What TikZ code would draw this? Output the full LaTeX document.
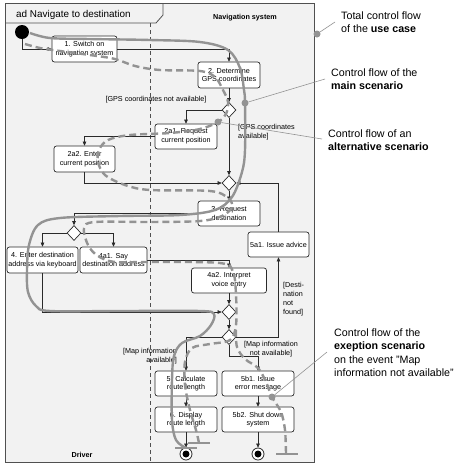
\documentclass[tikz,border=0pt]{standalone}
\usepackage{fontspec}
\setmainfont{Liberation Sans}
\usetikzlibrary{arrows.meta,shapes.geometric}
\definecolor{frameFill}{HTML}{F2F2F2}
\definecolor{frameC}{HTML}{505050}
\definecolor{lineC}{HTML}{2A2A2A}
\definecolor{flowC}{HTML}{939393}
\begin{document}
\begin{tikzpicture}[x=1pt,y=-1pt,
  act/.style={draw=lineC, fill=white, rounded corners=2.5pt, line width=0.7pt, align=center,
    font=\fontsize{7.2}{8.6}\selectfont, inner sep=0pt, minimum width=62pt, minimum height=25pt},
  dec/.style={draw=lineC, fill=white, diamond, minimum width=14pt, minimum height=15pt,
    inner sep=0pt, line width=0.7pt},
  flow/.style={draw=lineC, line width=0.6pt, -{Triangle[length=4pt,width=3.6pt]}},
  guard/.style={font=\fontsize{7.2}{8.8}\selectfont, inner sep=0pt},
  ctrl/.style={draw=flowC, line width=2.4pt},
  ctrldash/.style={draw=flowC, line width=2.4pt, dash pattern=on 7pt off 4pt},
  bar/.style={draw=flowC, line width=2pt},
  dot/.style={circle, fill=flowC, minimum size=7pt, inner sep=0pt},
  leader/.style={draw=flowC, line width=0.6pt},
  note/.style={font=\fontsize{10.7}{13.5}\selectfont, align=left, inner sep=0pt, anchor=north west}
]
\useasboundingbox (0,0) rectangle (474,467);
% frame
\draw[draw=frameC, fill=frameFill, line width=0.8pt] (5,3) rectangle (314,462);
\draw[draw=frameC, line width=0.8pt] (5,23) -- (156,23) -- (163,15) -- (163,3);
\node[font=\fontsize{9.9}{12}\selectfont, anchor=base west, inner sep=0pt] (title) at (16,17.5) {ad Navigate to destination};
\draw[draw=frameC, line width=0.7pt, dash pattern=on 4pt off 3pt] (150,23) -- (150,462);
\node[font=\bfseries\fontsize{7.2}{8.6}\selectfont, inner sep=0pt] (lane2) at (245,18) {Navigation system};
\node[font=\bfseries\fontsize{7.2}{8.6}\selectfont, inner sep=0pt] (lane1) at (82,455) {Driver};

% nodes
\node[circle, fill=black, minimum size=14pt, inner sep=0pt] (init) at (22,32) {};
\node[act, minimum width=65pt, minimum height=26pt] (n1) at (84.5,49) {1. Switch on\\navigation system};
\node[act, minimum height=26pt] (n2) at (229,75) {2. Determine\\GPS coordinates};
\node[dec] (d1) at (229,110) {};
\node[act] (n2a1) at (186,136.5) {2a1. Request\\current position};
\node[act, minimum width=61pt, minimum height=26pt] (n2a2) at (84.5,159) {2a2. Enter\\current position};
\node[dec] (d2) at (229,183) {};
\node[act] (n3) at (229,213.5) {3. Request\\destination};
\node[act, minimum width=61pt] (n5a1) at (278.5,244.5) {5a1. Issue advice};
\node[dec] (d3) at (74,233) {};
\node[act, minimum width=71pt, minimum height=26pt] (n4) at (42.5,260) {4. Enter destination\\address via keyboard};
\node[act, minimum width=67pt, minimum height=26pt] (n4a1) at (113.5,260) {4a1. Say\\destination address};
\node[act, minimum width=75pt] (n4a2) at (229,280.5) {4a2. Interpret\\voice entry};
\node[dec] (d4) at (229,312) {};
\node[dec] (d5) at (229,337) {};
\node[act] (n5) at (186,383.5) {5. Calculate\\route length};
\node[act, minimum width=72pt] (n5b1) at (258,383.5) {5b1. Issue\\error message};
\node[act] (n6) at (186,419.5) {6. Display\\route length};
\node[act, minimum width=72pt] (n5b2) at (258,419.5) {5b2. Shut down\\system};
\node[circle, draw=lineC, fill=white, line width=0.8pt, minimum size=12pt, inner sep=0pt] (f1) at (186,454) {};
\node[circle, fill=black, minimum size=7pt, inner sep=0pt] (f1i) at (186,454) {};
\node[circle, draw=lineC, fill=white, line width=0.8pt, minimum size=12pt, inner sep=0pt] (f2) at (258,454) {};
\node[circle, fill=black, minimum size=7pt, inner sep=0pt] (f2i) at (258,454) {};

% guards
\node[guard] (g1) at (156,100) {[GPS coordinates not available]};
\node[guard, align=left, anchor=west] (g2) at (238,132) {[GPS coordinates\\available]};
\node[guard, align=left, anchor=west] (g3) at (283,299) {[Desti-\\nation\\not\\found]};
\node[guard, align=center] (g4) at (271,349) {[Map information\\not available]};
\node[guard, align=right, anchor=east] (g5) at (177,356) {[Map information\\available]};

% connectors
\coordinate (k1) at (229,356);
\draw[flow] (init.south) |- (n1.west);
\draw[flow] (n1.east) -| (n2.north);
\draw[flow] (n2.south) -- (d1.north);
\draw[flow] (d1.west) -| (n2a1.north);
\draw[flow] (n2a1.west) -| (n2a2.north);
\draw[flow] (d1.south) -- (d2.north);
\draw[flow] (n2a2.south) |- (d2.west);
\draw[flow] (d2.south) -- (n3.north);
\draw[flow] (n3.west) -| (d3.north);
\draw[flow] (d3.west) -| (n4.north);
\draw[flow] (d3.east) -| (n4a1.north);
\draw[flow] (n4a1.east) -| (n4a2.north);
\draw[flow] (n4.south) |- (d4.west);
\draw[flow] (n4a2.south) -- (d4.north);
\draw[flow] (d4.south) -- (d5.north);
\draw[flow] (d5.east) -| (n5a1.south);
\draw[flow] (n5a1.north) |- (d2.east);
\draw[flow] (d5.west) -| (n5.north);
\draw[draw=lineC, line width=0.6pt] (d5.south) -- (k1);
\draw[flow] (k1) -| (n5b1.north);
\draw[flow] (n5.south) -- (n6.north);
\draw[flow] (n6.south) -- (f1.north);
\draw[flow] (n5b1.south) -- (n5b2.north);
\draw[flow] (n5b2.south) -- (f2.north);

% control flow overlays
\draw[ctrl] plot[smooth, tension=0.55] coordinates {(30,33) (50,38) (90,39) (150,40) (200,42) (228,50) (240,68) (244,90) (245,103) (245,150) (242,172) (232,197) (215,210) (180,215) (120,216) (60,218) (38,225) (29,245) (27,270) (28,292) (36,306) (50,311) (120,311) (200,311) (214,314) (211,325) (200,336) (182,343) (174,356) (172,380) (172,420) (176,440) (186,448)};
\coordinate (e1a) at (175,448); \coordinate (e1b) at (197,448);
\draw[bar] (e1a) -- (e1b);

\draw[ctrldash] plot[smooth, tension=0.55] coordinates {(25,44) (40,48) (60,51) (90,55) (115,59) (135,66) (160,70) (200,71) (215,77) (223,90) (228,102) (226,114) (218,122) (200,129) (170,133) (130,135) (108,140) (99,150) (98,162) (105,175) (125,185) (150,190) (210,191) (228,198) (232,207) (222,216) (200,221) (150,222) (95,222) (84,228) (88,245) (98,256) (115,262) (150,262) (220,263) (233,272) (236,295) (236,325) (230,340) (210,344) (192,348) (185,362) (185,385) (190,410) (196,430) (199,443)};
\coordinate (e2a) at (188,443); \coordinate (e2b) at (210,443);
\draw[bar] (e2a) -- (e2b);

\draw[ctrldash] plot[smooth, tension=0.55] coordinates {(236,330) (237,347) (245,359) (258,368) (266,382) (272,397) (281,412) (285,430) (286,454)};
\coordinate (e3a) at (276,454); \coordinate (e3b) at (298,454);
\draw[bar] (e3a) -- (e3b);

% annotation dots and leaders
\node[dot] (p0) at (317,34) {};
\node[dot] (p1) at (245,103) {};
\node[dot] (p2) at (218,122) {};
\node[dot] (p3) at (272,397) {};

\node[note] (t0) at (341,11.2) {Total control flow\\of the \textbf{use case}};
\node[note] (t1) at (331,68.3) {Control flow of the\\\textbf{main scenario}};
\node[note] (t2) at (328,129.3) {Control flow of an\\\textbf{alternative scenario}};
\node[note] (t3) at (334,328.3) {Control flow of the\\\textbf{exeption scenario}\\on the event "Map\\information not available"};

\coordinate (l0) at (335,22);
\coordinate (l1) at (325,79);
\coordinate (l2) at (322,139);
\coordinate (l3) at (327,352);
\draw[leader] (p0) -- (l0);
\draw[leader] (p1) -- (l1);
\draw[leader] (p2) -- (l2);
\draw[leader] (p3) -- (l3);
\end{tikzpicture}
\end{document}
